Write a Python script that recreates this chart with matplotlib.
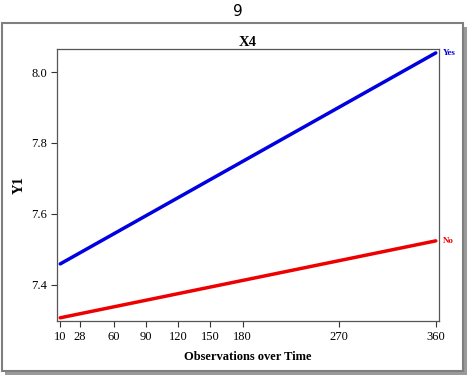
import matplotlib
matplotlib.use('Agg')
import matplotlib.pyplot as plt
from matplotlib.patches import Rectangle

# data
obs_ticks = [10, 28, 60, 90, 120, 150, 180, 270, 360]
y_ticks = [7.4, 7.6, 7.8, 8.0]
time_pts = [10, 360]
y1_yes = [7.459, 8.054]
y1_no = [7.307, 7.524]

plt.rcParams['font.family'] = ['Liberation Serif', 'DejaVu Serif']

fig = plt.figure(figsize=(4.74, 3.79), dpi=100)
W, H = 474, 379

# page number above the frame
fig.text(238 / W, 1 - 12 / H, "9", ha='center', va='center',
         fontsize=11, family='DejaVu Sans')

# framed box with shadow
fig.patches.append(Rectangle((5 / W, 1 - 375 / H), 462 / W, 348 / H,
                             transform=fig.transFigure, facecolor='#9a9a9a',
                             edgecolor='none', zorder=0))
fig.patches.append(Rectangle((2 / W, 1 - 371 / H), 461 / W, 348 / H,
                             transform=fig.transFigure, facecolor='white',
                             edgecolor='#7f7f7f', linewidth=1.5, zorder=1))

ax = fig.add_axes([57 / W, 1 - 321 / H, (439 - 57) / W, (321 - 49) / H])
ax.set_zorder(2)

ax.plot(time_pts, y1_yes, color='#0000e0', linewidth=2.5, solid_capstyle='round')
ax.plot(time_pts, y1_no, color='#ee0000', linewidth=2.5, solid_capstyle='round')

ax.set_xlim(7, 363)
ax.set_ylim(7.298, 8.065)
ax.set_xticks(obs_ticks)
ax.set_yticks(y_ticks)
ax.set_yticklabels([f"{v:.1f}" for v in y_ticks])

for s in ax.spines.values():
    s.set_color('#555555')
    s.set_linewidth(0.9)
ax.tick_params(direction='out', length=4, width=0.8, color='#333333',
               labelsize=9, pad=3)

ax.set_xlabel("Observations over Time", fontsize=9, fontweight='bold', labelpad=6)
ax.set_ylabel("Y1", fontsize=10.5, fontweight='bold', labelpad=4)
ax.set_title("X4", fontsize=10.5, fontweight='bold', pad=2)

ax.text(1.01, (y1_yes[1] - 7.298) / (8.065 - 7.298), "Yes", transform=ax.transAxes,
        color='#0000e0', fontsize=6.5, fontweight='bold', va='center', ha='left')
ax.text(1.01, (y1_no[1] - 7.298) / (8.065 - 7.298), "No", transform=ax.transAxes,
        color='#ee0000', fontsize=6.5, fontweight='bold', va='center', ha='left')

fig.savefig("out.png", dpi=100)
